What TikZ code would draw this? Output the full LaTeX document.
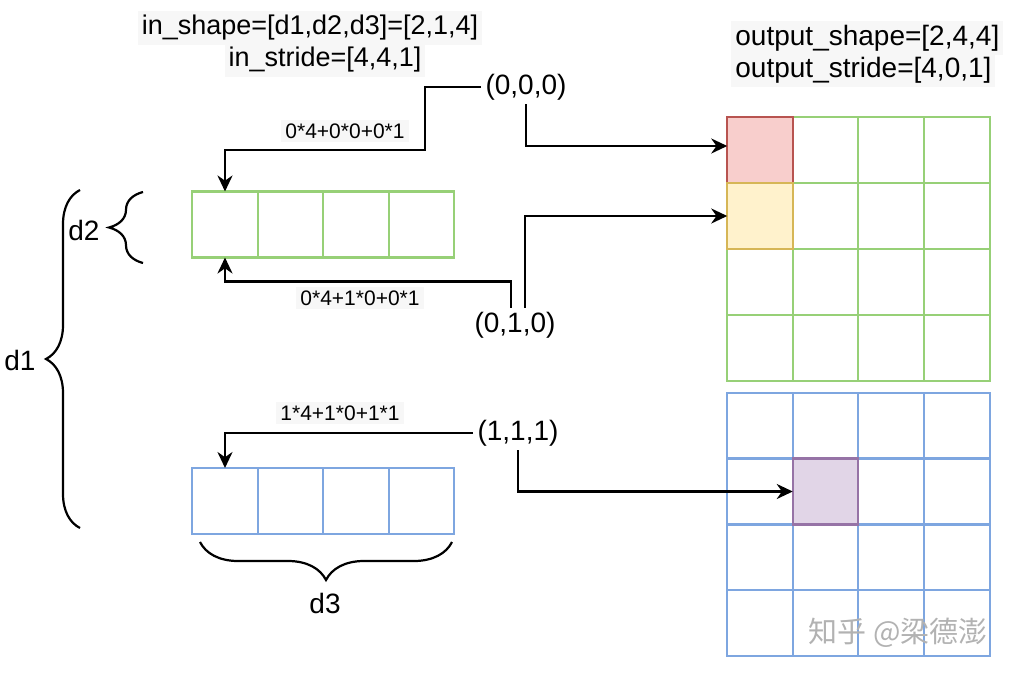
\documentclass[tikz,border=0pt]{standalone}
\usepackage{fontspec}
\setmainfont{Liberation Sans}
\newfontfamily\cjk{Noto Sans CJK SC}
\usetikzlibrary{decorations.pathreplacing,arrows.meta}
\definecolor{gstroke}{HTML}{97D077}
\definecolor{bstroke}{HTML}{7EA6E0}
\definecolor{rfill}{HTML}{F8CECC}
\definecolor{rstroke}{HTML}{B85450}
\definecolor{yfill}{HTML}{FFF2CC}
\definecolor{ystroke}{HTML}{D6B656}
\definecolor{pfill}{HTML}{E1D5E7}
\definecolor{pstroke}{HTML}{9673A6}
\begin{document}
\begin{tikzpicture}[x=0.5pt,y=-0.5pt,
  cellbase/.style={minimum width=32.75pt,minimum height=33pt,inner sep=0pt,outer sep=0pt,line width=1.1pt},
  gcell/.style={cellbase,draw=gstroke},
  bcell/.style={cellbase,draw=bstroke},
  txt/.style={font=\fontsize{14}{16}\selectfont,inner sep=2pt},
  lbl/.style={font=\fontsize{10.5}{12}\selectfont,fill=black!3,inner sep=2pt},
  arr/.style={line width=1.3pt,-{Stealth[length=8pt,width=7.5pt]}},
  brc/.style={line width=1.1pt,decorate,decoration={brace,amplitude=#1}}]
\useasboundingbox (0,0) rectangle (1016,674);
% title texts
\node[txt,fill=black!3,font=\fontsize{13.5}{16}\selectfont] (inshape) at (310,28) {in\_shape=[d1,d2,d3]=[2,1,4]};
\node[txt,fill=black!3,font=\fontsize{13.5}{16}\selectfont] (instride) at (325,60) {in\_stride=[4,4,1]};
\node[txt,fill=black!3,anchor=west] (oshape) at (731,38) {output\_shape=[2,4,4]};
\node[txt,fill=black!3,anchor=west] (ostride) at (731,70) {output\_stride=[4,0,1]};
% input arrays
\foreach \i/\x in {1/225,2/290.5,3/356,4/421.5}{
  \node[gcell] (a\i) at (\x,224.5) {};
  \node[bcell] (b\i) at (\x,501) {};
}
% output grids
\foreach \r/\y in {1/150,2/216,3/282,4/348}{
  \foreach \c/\x in {1/760,2/825.5,3/891,4/957}{
    \node[gcell] (o-\r-\c) at (\x,\y) {};
  }
}
\foreach \r/\y in {5/426,6/491.5,7/557,8/623}{
  \foreach \c/\x in {1/760,2/825.5,3/891,4/957}{
    \node[bcell] (o-\r-\c) at (\x,\y) {};
  }
}
\node[cellbase,draw=rstroke,fill=rfill] at (o-1-1) {};
\node[cellbase,draw=ystroke,fill=yfill] at (o-2-1) {};
\node[cellbase,draw=pstroke,fill=pfill] at (o-6-2) {};
% index nodes
\node[txt] (p000) at (526,87) {(0,0,0)};
\node[txt] (p010) at (515,325) {(0,1,0)};
\node[txt] (p111) at (518,433) {(1,1,1)};
% connectors
\coordinate (k1) at (425,150);
\draw[arr] (p000.west) -| (k1) -| (a1.north);
\node[lbl] (l1) at (345,131) {0*4+0*0+0*1};
\draw[arr] (p000.south) |- ([yshift=2pt]o-1-1.west);
\draw[arr] ([xshift=-2pt]p010.north) |- ([yshift=-12pt]a1.south) -- (a1.south);
\node[lbl] (l2) at (360,298) {0*4+1*0+0*1};
\draw[arr] ([xshift=5pt]p010.north) |- (o-2-1.west);
\draw[arr] (p111.west) -| (b1.north);
\node[lbl] (l3) at (340,413) {1*4+1*0+1*1};
\draw[arr] (p111.south) |- (o-6-2.west);
% braces
\draw[brc=17pt] (80,528) -- (80,190);
\node[txt] (d1) at (20,360) {d1};
\draw[brc=17pt] (143,263) -- (143,192);
\node[txt] (d2) at (84,230) {d2};
\draw[brc=19pt] (452,542) -- (200,542);
\node[txt] (d3) at (325,603) {d3};
% watermark
\node[font=\cjk\fontsize{14.5}{16}\selectfont,text=black!30] (wm) at (898,633) {知乎 @梁德澎};
\end{tikzpicture}
\end{document}
